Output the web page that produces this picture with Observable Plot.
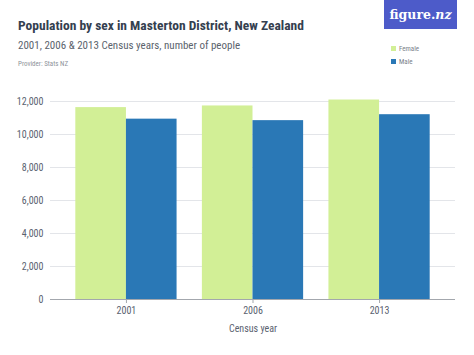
<!DOCTYPE html>
<html>
<head>
<meta charset="utf-8">
<script src="https://cdn.jsdelivr.net/npm/d3@7"></script>
<script src="https://cdn.jsdelivr.net/npm/@observablehq/plot@0.6"></script>
<style>
  html, body { margin: 0; padding: 0; background: #fff; }
  #wrap { position: relative; width: 474px; height: 355px; overflow: hidden;
    font-family: "Liberation Sans Narrow", "Roboto Condensed", "DejaVu Sans Condensed", Roboto, sans-serif; }
  #wrap svg { position: absolute; left: 0; top: 0; }
  .abs { position: absolute; white-space: nowrap; }
  #title { left: 18px; top: 18px; font-size: 13.5px; line-height: 14px; color: #34404f; font-weight: bold; }
  #subtitle { left: 18px; top: 40px; font-size: 11px; line-height: 12px; color: #5b636d; }
  #provider { left: 18px; top: 60px; font-size: 7px; line-height: 8px; color: #8d939a; }
  #logo { left: 384px; top: 0; width: 73px; height: 29px; background: #4d5bc9; color: #fff;
    font-family: "DejaVu Serif", "Liberation Serif", serif; font-weight: bold; font-size: 12.5px;
    line-height: 29px; text-align: center; }
  .leg { left: 391px; font-size: 7px; line-height: 8px; color: #7b8189; }
  .sw { display: inline-block; width: 5px; height: 5px; margin-right: 3px; vertical-align: 0px; }
</style>
</head>
<body>
<div id="wrap">
  <div id="chart"></div>
  <div id="title" class="abs">Population by sex in Masterton District, New Zealand</div>
  <div id="subtitle" class="abs">2001, 2006 &amp; 2013 Census years, number of people</div>
  <div id="provider" class="abs">Provider: Stats NZ</div>
  <div id="logo" class="abs">figure.<i>nz</i></div>
  <div id="legend"></div>
</div>
<script>
const years = ["2001", "2006", "2013"];
const sexes = ["Female", "Male"];
const female = [11630, 11730, 12090];
const male = [10930, 10840, 11200];
const yTicks = [0, 2000, 4000, 6000, 8000, 10000, 12000];
const colors = ["#d2ef96", "#2a78b6"];
const xLabel = "Census year";

const data = years.flatMap((y, i) => [
  {year: y, sex: sexes[0], value: female[i]},
  {year: y, sex: sexes[1], value: male[i]}
]);

const W = 474, H = 355, mL = 50, mR = 19, mT = 101, mB = 56;
const bw = d3.scaleBand(years, [mL, W - mR]).padding(0.2).bandwidth();
const half = bw / 2;
const fmt = d3.format(",");

const chart = Plot.plot({
  width: W, height: H,
  marginLeft: mL, marginRight: mR, marginTop: mT, marginBottom: mB,
  style: {fontFamily: '"Liberation Sans Narrow", "Roboto Condensed", Roboto, sans-serif', fontSize: "10px", color: "#5a6270", background: "transparent"},
  x: {domain: years, padding: 0.2, round: false},
  y: {domain: [0, 12000]},
  marks: [
    Plot.ruleY(yTicks.filter(d => d > 0), {stroke: "#e3e5e9"}),
    Plot.barY(data.filter(d => d.sex === sexes[0]), {x: "year", y: "value", fill: colors[0], insetRight: half}),
    Plot.barY(data.filter(d => d.sex === sexes[1]), {x: "year", y: "value", fill: colors[1], insetLeft: half}),
    Plot.ruleY([0], {stroke: "#a3a7ad"}),
    Plot.axisY({ticks: yTicks, tickSize: 0, tickPadding: 7, tickFormat: fmt, label: null}),
    Plot.axisX({tickSize: 4, tickPadding: 3, stroke: "#a3a7ad", label: xLabel, labelAnchor: "center", labelOffset: 32, fontSize: 10})
  ]
});
document.getElementById("chart").appendChild(chart);

const legend = document.getElementById("legend");
sexes.forEach((s, i) => {
  const d = document.createElement("div");
  d.className = "abs leg";
  d.style.top = (45 + i * 13) + "px";
  d.innerHTML = `<span class="sw" style="background:${colors[i]}"></span>${s}`;
  legend.appendChild(d);
});
</script>
</body>
</html>
